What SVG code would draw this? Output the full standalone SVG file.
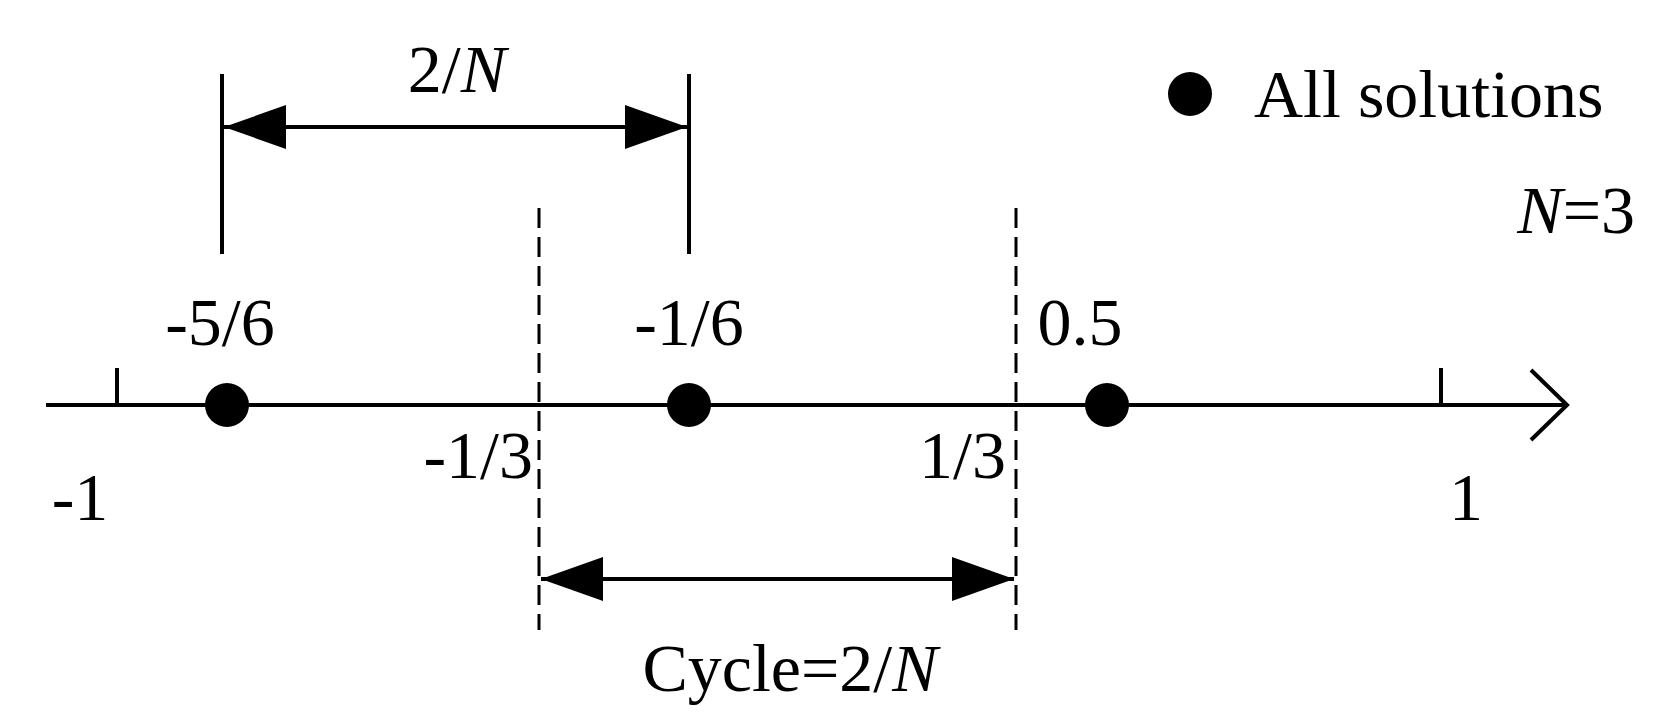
<svg xmlns="http://www.w3.org/2000/svg" width="1673" height="728" viewBox="0 0 1673 728">
<style>
.l{stroke:#000;stroke-width:4;fill:none}
.d{stroke:#000;stroke-width:3;stroke-dasharray:20,9;fill:none}
text{font-family:"Liberation Serif",serif;font-size:68px;fill:#000}
.m{text-anchor:middle}
</style>
<defs>
<marker id="ah" markerUnits="userSpaceOnUse" markerWidth="62" markerHeight="44" refX="62" refY="22" orient="auto-start-reverse">
<path d="M0,0L62,22L0,44Z" fill="#000"/>
</marker>
</defs>
<rect width="1673" height="728" fill="#fff"/>
<g id="connectors">
<path class="l" d="M46,405H1567M1531,370L1567,405L1531,440"/>
<path class="l" d="M117,405V368M1441,405V368"/>
<path class="l" d="M222,74V254M689,74V254"/>
<path class="l" d="M224,127H687" marker-start="url(#ah)" marker-end="url(#ah)"/>
<path class="d" d="M539,208V630M1016,208V630"/>
<path class="l" d="M541,579H1014" marker-start="url(#ah)" marker-end="url(#ah)"/>
</g>
<g id="dot-m56"><circle cx="227" cy="405" r="22"/><text class="m" x="220" y="345">-5/6</text></g>
<g id="dot-m16"><circle cx="689" cy="405" r="22"/><text class="m" x="689" y="345">-1/6</text></g>
<g id="dot-05"><circle cx="1107" cy="405" r="22"/><text class="m" x="1080" y="345">0.5</text></g>
<g id="labels">
<text class="m" x="80" y="520">-1</text>
<text x="533" y="478" text-anchor="end">-1/3</text>
<text x="1006" y="478" text-anchor="end">1/3</text>
<text class="m" x="1466" y="520">1</text>
<text class="m" x="457" y="92">2/<tspan font-style="italic">N</tspan></text>
<text class="m" x="790" y="691">Cycle=2/<tspan font-style="italic">N</tspan></text>
<text x="1635" y="233" text-anchor="end"><tspan font-style="italic">N</tspan>=3</text>
</g>
<g id="legend"><circle cx="1190" cy="94" r="22"/><text x="1254" y="117">All solutions</text></g>
</svg>
